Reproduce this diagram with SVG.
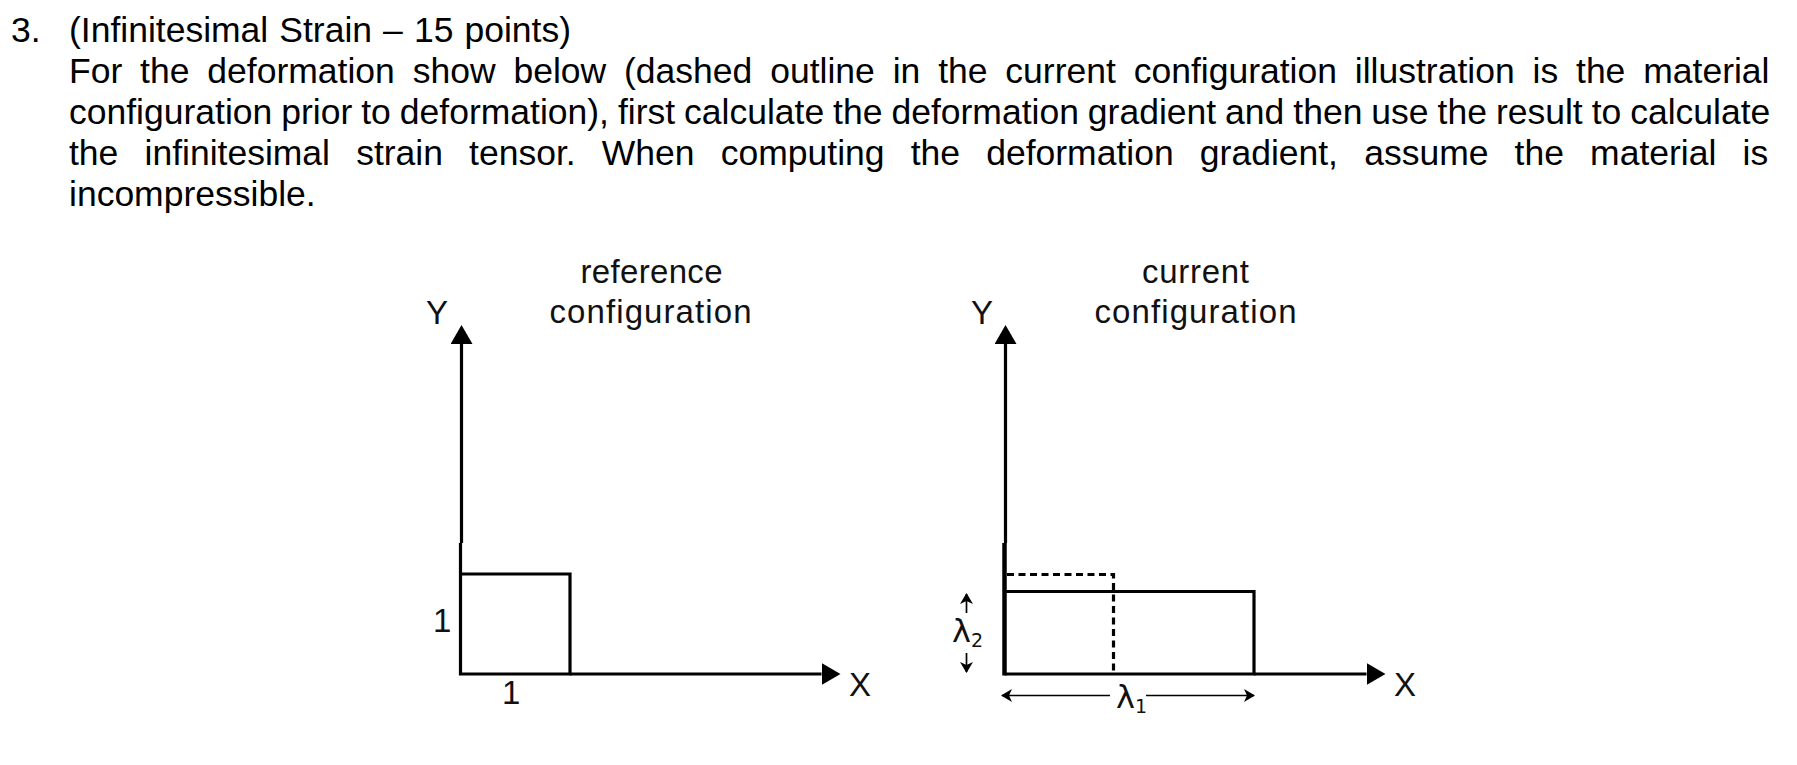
<svg xmlns="http://www.w3.org/2000/svg" width="1797" height="765" viewBox="0 0 1797 765">
<style>
text{font-family:"Liberation Sans",Arial,sans-serif;fill:#000}
.p{font-size:35.500px}
.d{font-size:33px;fill:#111}
.g{font-family:"DejaVu Sans",sans-serif;font-size:32px;fill:#111}
.s{font-size:19px}
.ax{fill:none;stroke:#000;stroke-width:3.200}
.b{fill:none;stroke:#000;stroke-width:3.200}
.dash{fill:none;stroke:#000;stroke-width:3.200;stroke-dasharray:7 4.500}
.thin{fill:none;stroke:#000;stroke-width:1.700}
</style>
<defs>
<marker id="big" markerUnits="userSpaceOnUse" markerWidth="20" markerHeight="24" refX="0" refY="11" orient="auto"><path d="M0,0 L19,11 L0,22 z" fill="#000"/></marker>
<marker id="small" markerUnits="userSpaceOnUse" markerWidth="12" markerHeight="14" refX="10" refY="7" orient="auto"><path d="M0,0.5 L11,7 L0,13.500 L3,7 z" fill="#000"/></marker>
</defs>
<rect width="1797" height="765" fill="#fff"/>
<g id="question">
<text class="p" x="11" y="41.500">3.</text>
<text class="p" x="69" y="41.500" word-spacing="1.200">(Infinitesimal Strain – 15 points)</text>
<text class="p" x="69" y="82.500" word-spacing="8">For the deformation show below (dashed outline in the current configuration illustration is the material</text>
<text class="p" x="69" y="123.500" word-spacing="-0.9">configuration prior to deformation), first calculate the deformation gradient and then use the result to calculate</text>
<text class="p" x="69" y="164.500" word-spacing="16.300">the infinitesimal strain tensor. When computing the deformation gradient, assume the material is</text>
<text class="p" x="69" y="205.500">incompressible.</text>
</g>
<g id="connectors">
<path class="ax" d="M461.500,543V344" marker-end="url(#big)"/>
<path class="ax" d="M570,674H821.500" marker-end="url(#big)"/>
<path class="ax" d="M1005.500,543V344" marker-end="url(#big)"/>
<path class="ax" d="M1254,674H1366.500" marker-end="url(#big)"/>
<path class="thin" d="M1110,695.500H1002" marker-end="url(#small)"/>
<path class="thin" d="M1146,695.500H1254" marker-end="url(#small)"/>
<path class="thin" d="M966.500,613V594" marker-end="url(#small)"/>
<path class="thin" d="M966.500,653V672" marker-end="url(#small)"/>
</g>
<g id="reference-configuration">
<text class="d" x="651.500" y="283" text-anchor="middle" textLength="142">reference</text>
<text class="d" x="650.500" y="322.500" text-anchor="middle" textLength="202">configuration</text>
<text class="d" x="426" y="324">Y</text>
<text class="d" x="849" y="696">X</text>
<text class="d" x="433" y="632">1</text>
<text class="d" x="502" y="704">1</text>
</g>
<g id="reference-square">
<path class="b" d="M460.500,543V674H570V574H460.500"/>
</g>
<g id="current-configuration">
<text class="d" x="1195.500" y="283" text-anchor="middle" textLength="107">current</text>
<text class="d" x="1195.500" y="322.500" text-anchor="middle" textLength="202">configuration</text>
<text class="d" x="971" y="324">Y</text>
<text class="d" x="1394" y="696">X</text>
<text class="g" x="952" y="642">λ<tspan class="s" dy="5">2</tspan></text>
<text class="g" x="1116" y="708">λ<tspan class="s" dy="5">1</tspan></text>
</g>
<g id="material-outline">
<path class="dash" d="M1007,574.500H1113.500V672"/>
</g>
<g id="deformed-rectangle">
<path class="b" d="M1004.500,591.500H1254V674H1004.500"/>
<path class="ax" style="stroke-width:4.500" d="M1004.500,543V675.500"/>
</g>
</svg>
